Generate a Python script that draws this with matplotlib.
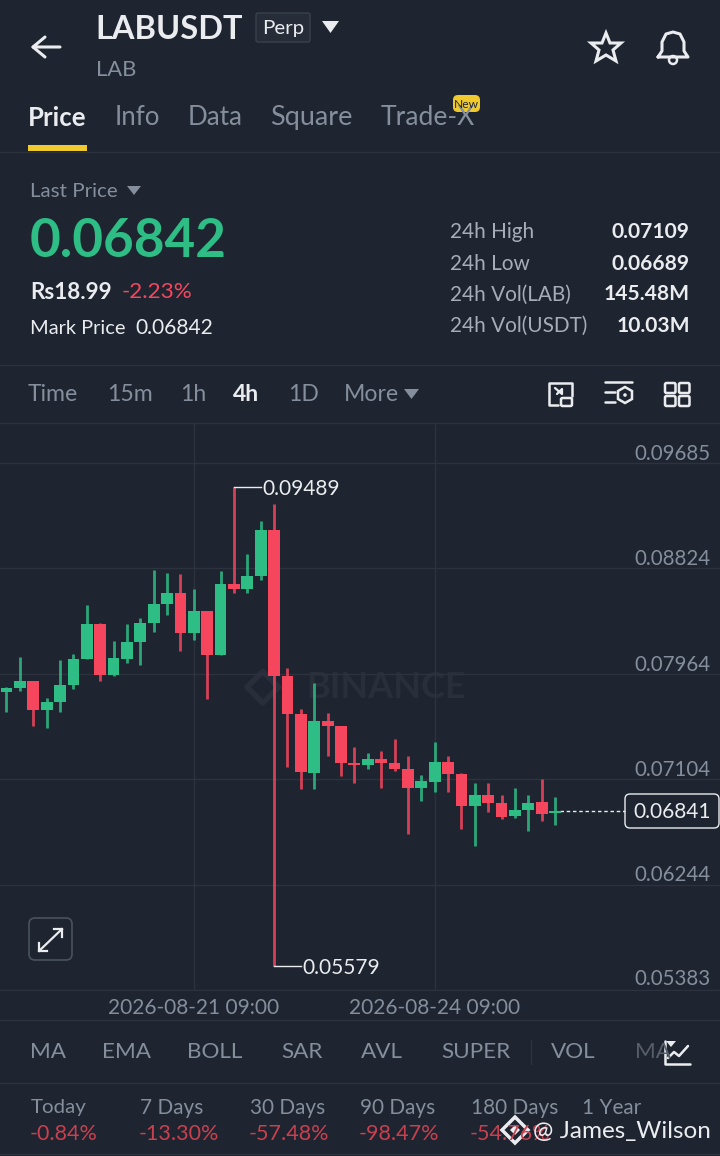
import matplotlib
matplotlib.use("Agg")
import matplotlib.pyplot as plt
from matplotlib.patches import Rectangle, FancyBboxPatch, Polygon, Circle

plt.rcParams["font.family"] = ["Lato", "DejaVu Sans"]

BG = "#1e2530"
GRID = "#2c333e"
GREY = "#848e9c"
WHITE = "#eaecef"
GREEN = "#2ebd85"
RED = "#f6465d"
YELLOW = "#f0c92f"

# candles
opens = [0.07812, 0.07850, 0.07904, 0.07668, 0.07733, 0.07874, 0.08082, 0.08370, 0.07953, 0.08087, 0.08225,
         0.08380, 0.08538, 0.08625, 0.08294, 0.08478, 0.08117, 0.08698, 0.08658, 0.08759, 0.09137,
         0.07948, 0.07633, 0.07156, 0.07581, 0.07537, 0.07233, 0.07217, 0.07268, 0.07238, 0.07186,
         0.07034, 0.07080, 0.07241, 0.07146, 0.06884, 0.06977, 0.06906, 0.06800, 0.06849, 0.06914, 0.06829]
highs = [0.07855, 0.08103, 0.07904, 0.07763, 0.08076, 0.08125, 0.08525, 0.08380, 0.08231, 0.08370, 0.08416,
         0.08810, 0.08783, 0.08778, 0.08655, 0.08478, 0.08805, 0.09489, 0.08943, 0.09210, 0.09349,
         0.08008, 0.07676, 0.07886, 0.07641, 0.07540, 0.07368, 0.07314, 0.07333, 0.07431, 0.07292,
         0.07137, 0.07409, 0.07292, 0.07152, 0.07075, 0.07070, 0.06974, 0.07031, 0.06977, 0.07107, 0.06958]
lows = [0.07649, 0.07823, 0.07537, 0.07521, 0.07649, 0.07837, 0.08082, 0.07907, 0.07945, 0.08054, 0.08035,
        0.08307, 0.08441, 0.08152, 0.08239, 0.07758, 0.08117, 0.08620, 0.08620, 0.08729, 0.05579,
        0.07200, 0.07023, 0.07023, 0.07292, 0.07132, 0.07070, 0.07184, 0.07034, 0.07172, 0.06656,
        0.06925, 0.06999, 0.06999, 0.06694, 0.06558, 0.06833, 0.06778, 0.06786, 0.06683, 0.06764, 0.06729]
closes = [0.07850, 0.07904, 0.07668, 0.07733, 0.07874, 0.08082, 0.08370, 0.07956, 0.08090, 0.08223, 0.08380,
          0.08538, 0.08625, 0.08294, 0.08478, 0.08117, 0.08698, 0.08658, 0.08759, 0.09137, 0.07948,
          0.07633, 0.07159, 0.07581, 0.07537, 0.07233, 0.07217, 0.07268, 0.07238, 0.07186, 0.07034,
          0.07086, 0.07241, 0.07146, 0.06884, 0.06977, 0.06906, 0.06797, 0.06849, 0.06911, 0.06822, 0.06841]

price_ticks = [0.09685, 0.08824, 0.07964, 0.07104, 0.06244, 0.05383]
date_ticks = [14, 32]
date_labels = ["2026-08-21 09:00", "2026-08-24 09:00"]
max_label = "0.09489"
min_label = "0.05579"
last_label = "0.06841"

tabs = ["Price", "Info", "Data", "Square", "Trade-X"]
tab_x = [28, 115, 188, 270, 381]
stats_names = ["24h High", "24h Low", "24h Vol(LAB)", "24h Vol(USDT)"]
stats_values = ["0.07109", "0.06689", "145.48M", "10.03M"]
stats_y = [232, 263, 294, 325]
intervals = ["Time", "15m", "1h", "4h", "1D", "More"]
interval_x = [28, 107, 180, 233, 288, 344]
indicators = ["MA", "EMA", "BOLL", "SAR", "AVL", "SUPER", "VOL", "MA"]
indicator_x = [30, 102, 187, 281, 361, 441, 551, 635]
periods = ["Today", "7 Days", "30 Days", "90 Days", "180 Days", "1 Year"]
period_values = ["-0.84%", "-13.30%", "-57.48%", "-98.47%", "-54.76%", ""]
period_x = [31, 140, 250, 360, 471, 582]

W, H = 720, 1156
fig = plt.figure(figsize=(W / 100, H / 100), dpi=100, facecolor=BG)

# page furniture in pixel coordinates
ui = fig.add_axes([0, 0, 1, 1], zorder=1)
ui.set_xlim(0, W)
ui.set_ylim(H, 0)
ui.axis("off")


def label(x, y, s, px, color=GREY, ha="left", weight="normal", **kw):
    ui.text(x, y + 1.5, s, fontsize=px * 0.72, color=color, ha=ha, va="center", fontweight=weight, **kw)


def stroke(xs, ys, color=WHITE, lw=1.6):
    ui.plot(xs, ys, color=color, lw=lw, solid_capstyle="round", solid_joinstyle="round")


def box(x, y, w, h, color=WHITE, lw=1.5, r=1.5):
    ui.add_patch(FancyBboxPatch((x + r, y + r), w - 2 * r, h - 2 * r, boxstyle=f"round,pad={r}",
                                fc="none", ec=color, lw=lw))


for sep in [152, 365, 423, 1020, 1083, 1154]:
    ui.axhline(sep, color=GRID, lw=1)

# header
stroke([60, 33, 45], [47, 47, 37], lw=2.2)
stroke([33, 45], [47, 57], lw=2.2)
label(95, 28, "LABUSDT", 32.5, WHITE, weight="bold")
ui.add_patch(FancyBboxPatch((258, 15), 50, 25, boxstyle="round,pad=2", fc="#262d38", ec="#39414d", lw=1))
label(283, 27, "Perp", 20.5, WHITE, ha="center")
ui.add_patch(Polygon([(322, 21), (339, 21), (330.5, 33)], fc=WHITE))
label(96, 68, "LAB", 22)
ui.add_patch(Polygon([(606, 33), (610, 43), (621, 43), (613, 50), (616, 61), (606, 55),
                      (596, 61), (599, 50), (591, 43), (602, 43)], fc="none", ec=WHITE, lw=2.2))
stroke([658, 662, 662, 666, 673, 680, 684, 684, 688, 658], [57, 51, 42, 34, 32, 34, 42, 51, 57, 57], lw=2.2)
ui.add_patch(Circle((673, 60), 4, fc="none", ec=WHITE, lw=1.8))

# tabs
tab_sizes = [25.8, 25.8, 26, 27, 26.5]
for i, (name, x) in enumerate(zip(tabs, tab_x)):
    label(x, 116, name, tab_sizes[i], WHITE if i == 0 else GREY, weight="bold" if i == 0 else "normal")
ui.add_patch(Rectangle((28, 145), 59, 6, fc=YELLOW))
ui.add_patch(FancyBboxPatch((458, 100), 17, 7, boxstyle="round,pad=5", fc=YELLOW, ec="none"))
label(466.5, 102.5, "New", 12, "#1e2530", ha="center")

# price block
label(30, 190, "Last Price", 20.5)
ui.add_patch(Polygon([(127, 186), (141, 186), (134, 195)], fc=GREY))
label(30, 240, "0.06842", 53, GREEN, weight="bold")
label(30, 291, "Rs18.99", 22.5, WHITE, weight="bold")
label(122, 291, "-2.23%", 22.5, RED)
label(30, 327, "Mark Price", 20, WHITE)
label(135, 327, "0.06842", 21, WHITE)
for name, value, y in zip(stats_names, stats_values, stats_y):
    label(450, y - 1, name, 20.8, "#a6adb8")
    label(690, y - 1, value, 21, WHITE, ha="right", weight="bold")

# interval row
for name, x in zip(intervals, interval_x):
    label(x, 393, name, 23, WHITE if name == "4h" else GREY, weight="bold" if name == "4h" else "normal")
ui.add_patch(Polygon([(404, 389), (419, 389), (411.5, 399)], fc=GREY))
stroke([558, 549, 549, 572, 572], [405, 405, 383, 383, 396], lw=1.8)
box(561, 398, 11, 8, lw=1.8)
stroke([555, 562, 562, 557], [388, 394, 389, 394], lw=1.6)
stroke([605, 632], [382, 382], lw=1.8)
stroke([605, 615], [392, 392], lw=1.8)
stroke([605, 615], [402, 402], lw=1.8)
ui.add_patch(Polygon([(625, 387), (632, 391), (632, 399), (625, 403), (618, 399), (618, 391)], fc="none", ec=WHITE, lw=1.8))
ui.add_patch(Circle((625, 395), 1.8, fc=WHITE))
for bx in [665, 679]:
    for by in [383, 396]:
        box(bx, by, 10.5, 10, lw=1.8)

# indicator row
for name, x in zip(indicators[:-1], indicator_x):
    label(x, 1051, name, 22.5)
ui.plot([531, 531], [1040, 1064], color=GRID, lw=1)
label(indicator_x[-1], 1051, indicators[-1], 22.5, "#565e6a")
ui.add_patch(Rectangle((656, 1030), 64, 45, fc=BG, ec="none"))
stroke([665, 665, 690], [1041, 1064, 1064], lw=1.8)
stroke([668, 674, 679, 688], [1058, 1052, 1056, 1046], lw=1.8)
ui.add_patch(Polygon([(666, 1041), (676, 1041), (671, 1047)], fc=WHITE))

# period row
for name, value, x in zip(periods, period_values, period_x):
    label(x, 1106, name, 20.8 if x > 100 else 20.5)
    label(x - 1, 1132, value, 21.5, "#c9404f")

# watermark at the bottom
ui.add_patch(Polygon([(515, 1117), (528, 1130), (515, 1143), (502, 1130)], fc="none", ec=WHITE, lw=2.5))
ui.add_patch(Polygon([(515, 1125), (520, 1130), (515, 1135), (510, 1130)], fc=WHITE, ec="none"))
label(533, 1130, "@ James_Wilson", 24.3, WHITE)

# chart, price scale taken from the outer ticks
top_px, bottom_px = 424, 990
grid_top, grid_bottom = 463, 990
per_px = (price_ticks[0] - price_ticks[-1]) / (grid_bottom - grid_top)
ax = fig.add_axes([0, 1 - bottom_px / H, 1, (bottom_px - top_px) / H], zorder=2)
ax.patch.set_alpha(0)
ax.set_ylim(price_ticks[-1], price_ticks[0] + (grid_top - top_px) * per_px)
step = 13.38
ax.set_xlim(-6.5 / step, (W - 6.5) / step)
for side in ["top", "left", "right"]:
    ax.spines[side].set_visible(False)
ax.spines["bottom"].set_color(GRID)
ax.set_yticks(price_ticks)
ax.set_yticklabels([])
ax.set_xticks(date_ticks)
ax.set_xticklabels(date_labels, fontsize=15, color=GREY)
ax.tick_params(length=0, pad=5.5)
ax.grid(True, color=GRID, lw=1)
ax.set_axisbelow(True)

for tick in price_ticks:
    # the lowest label sits a little higher above its line
    lift = 8 if tick == price_ticks[-1] else 6.5
    ax.annotate(f"{tick:.5f}", xy=(1, tick), xycoords=("axes fraction", "data"), xytext=(-7, lift),
                textcoords="offset points", ha="right", va="center", fontsize=14.8, color=GREY)

ax.text(0.536, 0.535, "BINANCE", transform=ax.transAxes, fontsize=26, fontweight="bold", color="#282f3b",
        ha="center", va="center", zorder=0.5)
ax.scatter([0.365], [0.535], transform=ax.transAxes, marker="D", s=260, fc="none", ec="#282f3b", lw=4, zorder=0.5)

for i, (o, h, l, c) in enumerate(zip(opens, highs, lows, closes)):
    col = GREEN if c >= o else RED
    ax.vlines(i, l, h, color=col, lw=2, alpha=0.85, zorder=3)
    ax.bar(i, max(abs(c - o), 0.00012), bottom=min(o, c), width=0.88, color=col, zorder=4)

hi_i = highs.index(max(highs))
lo_i = lows.index(min(lows))
for i, price, s, dx in [(hi_i, highs[hi_i], max_label, 28), (lo_i, lows[lo_i], min_label, 28)]:
    ax.plot([i, i + (dx - 1) / step], [price, price], color=WHITE, lw=1, zorder=3)
    ax.annotate(s, xy=(i, price), xytext=(dx * 0.72, -1.5), textcoords="offset points", va="center",
                fontsize=15, color=WHITE)

last = closes[-1]
ax.plot([len(closes) - 0.6, (625 - 6.5) / step], [last, last], color=WHITE, lw=1, ls=(0, (2.5, 2)), zorder=3)
ui.add_patch(FancyBboxPatch((630, 799), 84, 24, boxstyle="round,pad=5", fc=BG, ec=WHITE, lw=1, zorder=5))
ui.text(672, 812.5, last_label, fontsize=15, color=WHITE, ha="center", va="center", zorder=6)

# expand button over the chart
ui2 = fig.add_axes([0, 0, 1, 1], zorder=3)
ui2.set_xlim(0, W)
ui2.set_ylim(H, 0)
ui2.axis("off")
ui2.add_patch(FancyBboxPatch((35, 924), 31, 30, boxstyle="round,pad=6", fc=BG, ec="#4a525e", lw=1.2))
ui2.plot([39, 62], [951, 929], color=WHITE, lw=1.6)
ui2.plot([39, 39, 47], [943, 951, 951], color=WHITE, lw=1.6)
ui2.plot([54, 62, 62], [929, 929, 937], color=WHITE, lw=1.6)

fig.savefig("out.png", dpi=100, facecolor=BG)
